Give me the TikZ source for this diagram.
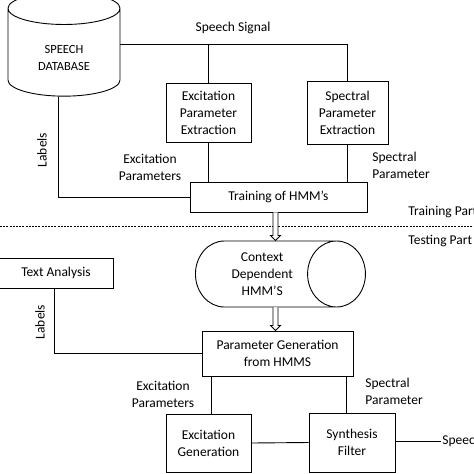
\documentclass[tikz,border=0pt]{standalone}
\usepackage{fontspec}
\setmainfont{Carlito}
\usetikzlibrary{shapes.geometric,calc}

% open block arrow from #1 (tail) down to #2 (tip)
\newcommand{\hollowarrow}[2]{%
  \draw[fill=white,line width=0.8pt] ($(#1)+(-2.5,0)$) -- ($(#2)+(-2.5,-5)$) -- ($(#2)+(-5,-5)$)
    -- (#2) -- ($(#2)+(5,-5)$) -- ($(#2)+(2.5,-5)$) -- ($(#1)+(2.5,0)$);}

\begin{document}
\begin{tikzpicture}[x=1pt,y=-1pt,line width=0.9pt]
            \tikzstyle{every node}=[font=\fontsize{13.5}{17}\selectfont, align=center, inner sep=1pt];
            \tikzstyle{box}=[draw, rectangle];
            \clip (0,0) rectangle (474,474);

            % training part
            \node[draw, cylinder, shape border rotate=90, aspect=0.6, minimum width=112pt, minimum height=104pt,
                  font=\fontsize{12.5}{17}\selectfont] (db) at (64,54) {{}\\SPEECH\\DATABASE};
            \node[box, minimum width=85pt, minimum height=59pt] (exc) at (208.5,112.5) {Excitation\\Parameter\\Extraction};
            \node[box, minimum width=81pt, minimum height=63pt] (spec) at (347.5,112.5) {Spectral\\Parameter\\Extraction};
            \node[box, minimum width=177pt, minimum height=30pt] (train) at (278.5,197) {Training of HMM's};

            \coordinate (sig) at (0,44);
            \draw (db.east |- sig) -| (spec.north);
            \draw (exc.north) -- (exc.north |- sig);
            \draw (exc.south) -- (exc.south |- train.north);
            \draw (spec.south) -- (spec.south |- train.north);
            \draw ([xshift=-6pt]db.south) |- (train.west);

            \node (sigtxt) at (233,28) {Speech Signal};
            \node[rotate=90] (lab1) at (42,150) {Labels};
            \node (excpar1) at (150,167) {Excitation\\Parameters};
            \node[anchor=west, align=left] (specpar1) at (371,165) {Spectral\\Parameter};

            % separation
            \draw[dash pattern=on 2pt off 1.2pt, line width=1pt] (0,226) -- (474,226);
            \node[anchor=west] (trpart) at (407,212) {Training Part};
            \node[anchor=west] (tepart) at (407,241) {Testing Part};

            % testing part
            \node[draw, cylinder, aspect=1.29, minimum height=170pt, minimum width=66pt, anchor=west] (hmm) at (195,274) {Context\\Dependent\\HMM'S};
            \node[box, minimum width=114pt, minimum height=30pt] (ta) at (56,273) {Text Analysis};
            \node[box, minimum width=151pt, minimum height=45pt] (pg) at (277.5,353.5) {Parameter Generation\\from HMMS};
            \node[box, minimum width=85pt, minimum height=58pt] (eg) at (208.5,443) {Excitation\\Generation};
            \node[box, minimum width=86pt, minimum height=59pt] (sf) at (352,442.5) {Synthesis\\Filter};

            \coordinate (a1) at ([xshift=-3pt]train.south);
            \hollowarrow{a1}{a1 |- hmm.north}
            \coordinate (a2) at (a1 |- hmm.south);
            \hollowarrow{a2}{a2 |- pg.north}

            \draw ([xshift=-2pt]ta.south) |- (pg.west);
            \draw ([xshift=3pt]eg.north) -- ([xshift=3pt]eg.north |- pg.south);
            \draw ([xshift=-6pt]sf.north) -- ([xshift=-6pt]sf.north |- pg.south);
            \draw (eg.east) -- (sf.west);
            \coordinate (out) at (441,441);
            \draw (sf.east |- out) -- (out);

            \node[rotate=90] (lab2) at (40,322) {Labels};
            \node (excpar2) at (163,394) {Excitation\\Parameters};
            \node[anchor=west, align=left] (specpar2) at (364,391) {Spectral\\Parameter};
            \node[anchor=west] (speech) at (out) {Speech};
        \end{tikzpicture}
\end{document}
